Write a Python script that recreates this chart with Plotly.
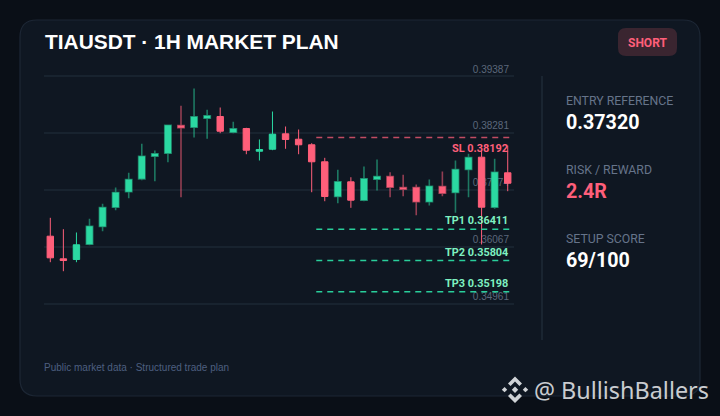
import plotly.graph_objects as go

W, H = 720, 416

bright_i = [0, 1, 2, 13, 15, 16, 17, 18, 19, 20, 21, 23, 33, 35]
dim_i = [3, 4, 5, 6, 7, 8, 9, 10, 11, 12, 14, 22, 24, 25, 26, 27, 28, 29, 30, 31, 32, 34]

highs = [.36633,.36412,.36348,.36614,.36905,.37221,.37507,.38070,.37940,.38445,.38808,.39144,.38730,.38775,.38497,.38381,.38154,.38697,
         .38406,.38348,.38082,.37798,.37565,.37421,.37629,.37765,.37519,.37468,.37280,.37377,.37532,.37746,.37876,.37940,.37779,.38037]
lows = [.35771,.35596,.35771,.36101,.36373,.36781,.37014,.37363,.37344,.37713,.37033,.38192,.38167,.38276,.38276,.37868,.37746,.37946,
        .37973,.37868,.37130,.36955,.36917,.36827,.36955,.37163,.37033,.37053,.36684,.36872,.37053,.36730,.37033,.36115,.36808,.37150]
opens = [.36276,.35837,.35823,.36120,.36464,.36839,.37138,.37390,.37829,.37888,.38425,.38393,.38567,.38600,.38295,.38367,.37926,.37965,
         .38264,.38159,.38051,.37721,.37047,.37332,.36975,.37383,.37435,.37221,.37221,.36944,.37241,.37124,.37571,.37810,.36839,.37507]
closes = [.35856,.35804,.36109,.36470,.36833,.37124,.37377,.37829,.37876,.38431,.38381,.38594,.38614,.38315,.38361,.37946,.37959,.38257,
          .38154,.38051,.37721,.37047,.37332,.36975,.37390,.37435,.37227,.37188,.36944,.37247,.37111,.37571,.37804,.36839,.37519,.37305]

grid_vals = [0.39387, 0.38281, 0.37174, 0.36067, 0.34961]
grid_text = ["0.39387", "0.38281", "0.37174", "0.36067", "0.34961"]

levels = [0.38192, 0.36411, 0.35804, 0.35198]
level_names = ["SL 0.38192", "TP1 0.36411", "TP2 0.35804", "TP3 0.35198"]
level_span = [20.35, 35.2]

stats = [("ENTRY REFERENCE", "0.37320", "#ffffff"),
         ("RISK / REWARD", "2.4R", "#ff5f7a"),
         ("SETUP SCORE", "69/100", "#ffffff")]

GREEN, RED = "#2bd9a2", "#ff5f7a"
GREEN_DIM, RED_DIM = "rgba(43,217,162,0.5)", "rgba(255,95,122,0.55)"
SL_C = "rgba(255,95,122,0.75)"
TP_C = "rgba(43,217,162,0.95)"
FONT = "Liberation Sans"


def px(x):
    return x / W


def py(y):
    return 1 - y / H


def rrect(x0, y0, x1, y1, r):
    X0, X1, Y0, Y1 = px(x0), px(x1), py(y0), py(y1)
    rx, ry = r / W, r / H
    return (f"M{X0+rx},{Y0} L{X1-rx},{Y0} Q{X1},{Y0} {X1},{Y0-ry} L{X1},{Y1+ry} Q{X1},{Y1} {X1-rx},{Y1} "
            f"L{X0+rx},{Y1} Q{X0},{Y1} {X0},{Y1+ry} L{X0},{Y0-ry} Q{X0},{Y0} {X0+rx},{Y0} Z")


def poly(cx, cy, pts):
    return "M" + " L".join(f"{px(cx+a)},{py(cy+b)}" for a, b in pts) + " Z"


def pick(arr, idx):
    return [arr[i] for i in idx]


fig = go.Figure()
for idx, gc, rc, lw in ((dim_i, GREEN_DIM, RED_DIM, 1.6), (bright_i, GREEN, RED, 1.0)):
    fig.add_trace(go.Candlestick(
        x=idx, open=pick(opens, idx), high=pick(highs, idx), low=pick(lows, idx), close=pick(closes, idx),
        increasing=dict(line=dict(color=gc, width=lw), fillcolor=GREEN),
        decreasing=dict(line=dict(color=rc, width=lw), fillcolor=RED),
        whiskerwidth=0, showlegend=False, hoverinfo="skip"))

for lv, name in zip(levels, level_names):
    c = SL_C if name.startswith("SL") else TP_C
    fig.add_trace(go.Scatter(x=level_span, y=[lv, lv], mode="lines", showlegend=False, hoverinfo="skip",
                             line=dict(color=c, width=1.4, dash="6px,5px")))

shapes = [
    dict(type="path", xref="paper", yref="paper", path=rrect(20, 20, 700, 396, 17),
         fillcolor="#0f1722", line=dict(color="#1d2735", width=1.2), layer="below"),
    dict(type="path", xref="paper", yref="paper", path=rrect(618, 28, 677, 56, 8),
         fillcolor="#3a2530", line=dict(width=0), layer="below"),
    dict(type="line", xref="paper", yref="paper", x0=px(542), x1=px(542), y0=py(76), y1=py(340),
         line=dict(color="#1a2531", width=2), layer="below"),
]
LOGO = "#d0d3d6"
cx, cy = 515, 389.7
for pts in (
    [(0, -3.2), (3.2, 0), (0, 3.2), (-3.2, 0)],
    [(-10.4, -2.6), (-7.8, 0), (-10.4, 2.6), (-13.2, 0)],
    [(10.4, -2.6), (13.2, 0), (10.4, 2.6), (7.8, 0)],
    [(0, -13.3), (7, -6.3), (4.4, -3.7), (0, -8.1), (-4.4, -3.7), (-7, -6.3)],
    [(0, 13.3), (7, 6.3), (4.4, 3.7), (0, 8.1), (-4.4, 3.7), (-7, 6.3)],
):
    shapes.append(dict(type="path", xref="paper", yref="paper", path=poly(cx, cy, pts),
                       fillcolor=LOGO, line=dict(width=0), layer="above"))

ann = []


def text(x, y, s, size, color, bold=False, anchor="left", family=FONT):
    ann.append(dict(xref="paper", yref="paper", x=px(x), y=py(y), text=f"<b>{s}</b>" if bold else s,
                    showarrow=False, xanchor=anchor, yanchor="middle", align=anchor,
                    font=dict(size=size, color=color, family=family), borderpad=0, borderwidth=0))


text(45, 42, "TIAUSDT · 1H MARKET PLAN", 20.9, "#ffffff", True)
text(647.5, 42.5, "SHORT", 12, RED, True, "center", "Roboto")
for (lab, val, col), yy in zip(stats, (101, 170, 239)):
    text(566, yy, lab, 12.3, "#66748a", False, "left", "Roboto")
    text(566, yy + 21, val, 19.7, col, True, "left", "Roboto")
text(44, 367, "Public market data · Structured trade plan", 10, "#4d5f80")
text(534, 390, "@ BullishBallers", 23.4, "#c9ccd0", False, "left", "Noto Sans")

for lv, name in zip(levels, level_names):
    sl = name.startswith("SL")
    ann.append(dict(x=35.2, y=lv, xref="x", yref="y", text=f"<b>{name}</b>", showarrow=False,
                    xanchor="right", yanchor="bottom", yshift=0 if not sl else -19,
                    font=dict(size=10.9, color="#ff5f7a" if sl else "#7ef0c0", family="Roboto")))

fig.update_layout(
    width=W, height=H, autosize=False,
    margin=dict(l=0, r=0, t=0, b=0),
    paper_bgcolor="#0a0f17", plot_bgcolor="rgba(0,0,0,0)",
    shapes=shapes, annotations=ann, showlegend=False,
    xaxis=dict(domain=[px(44), px(514)], range=[-0.482, 35.48], visible=False, rangeslider=dict(visible=False),
               fixedrange=True),
    yaxis=dict(domain=[py(310.5), py(60.5)], range=[0.34833, 0.39688], side="right",
               tickvals=grid_vals, ticktext=grid_text, showgrid=True, gridcolor="#18232f", gridwidth=1.5,
               zeroline=False, showline=False, ticks="", ticklabelposition="inside top",
               ticklabeloverflow="allow", ticklabelstandoff=2, layer="below traces",
               tickfont=dict(size=10, color="#5c687b", family=FONT), fixedrange=True),
)

fig.write_html("out.html", config=dict(displayModeBar=False),
               post_script="document.body.style.margin='0';document.body.style.background='#0a0f17';document.body.style.overflow='hidden';")
